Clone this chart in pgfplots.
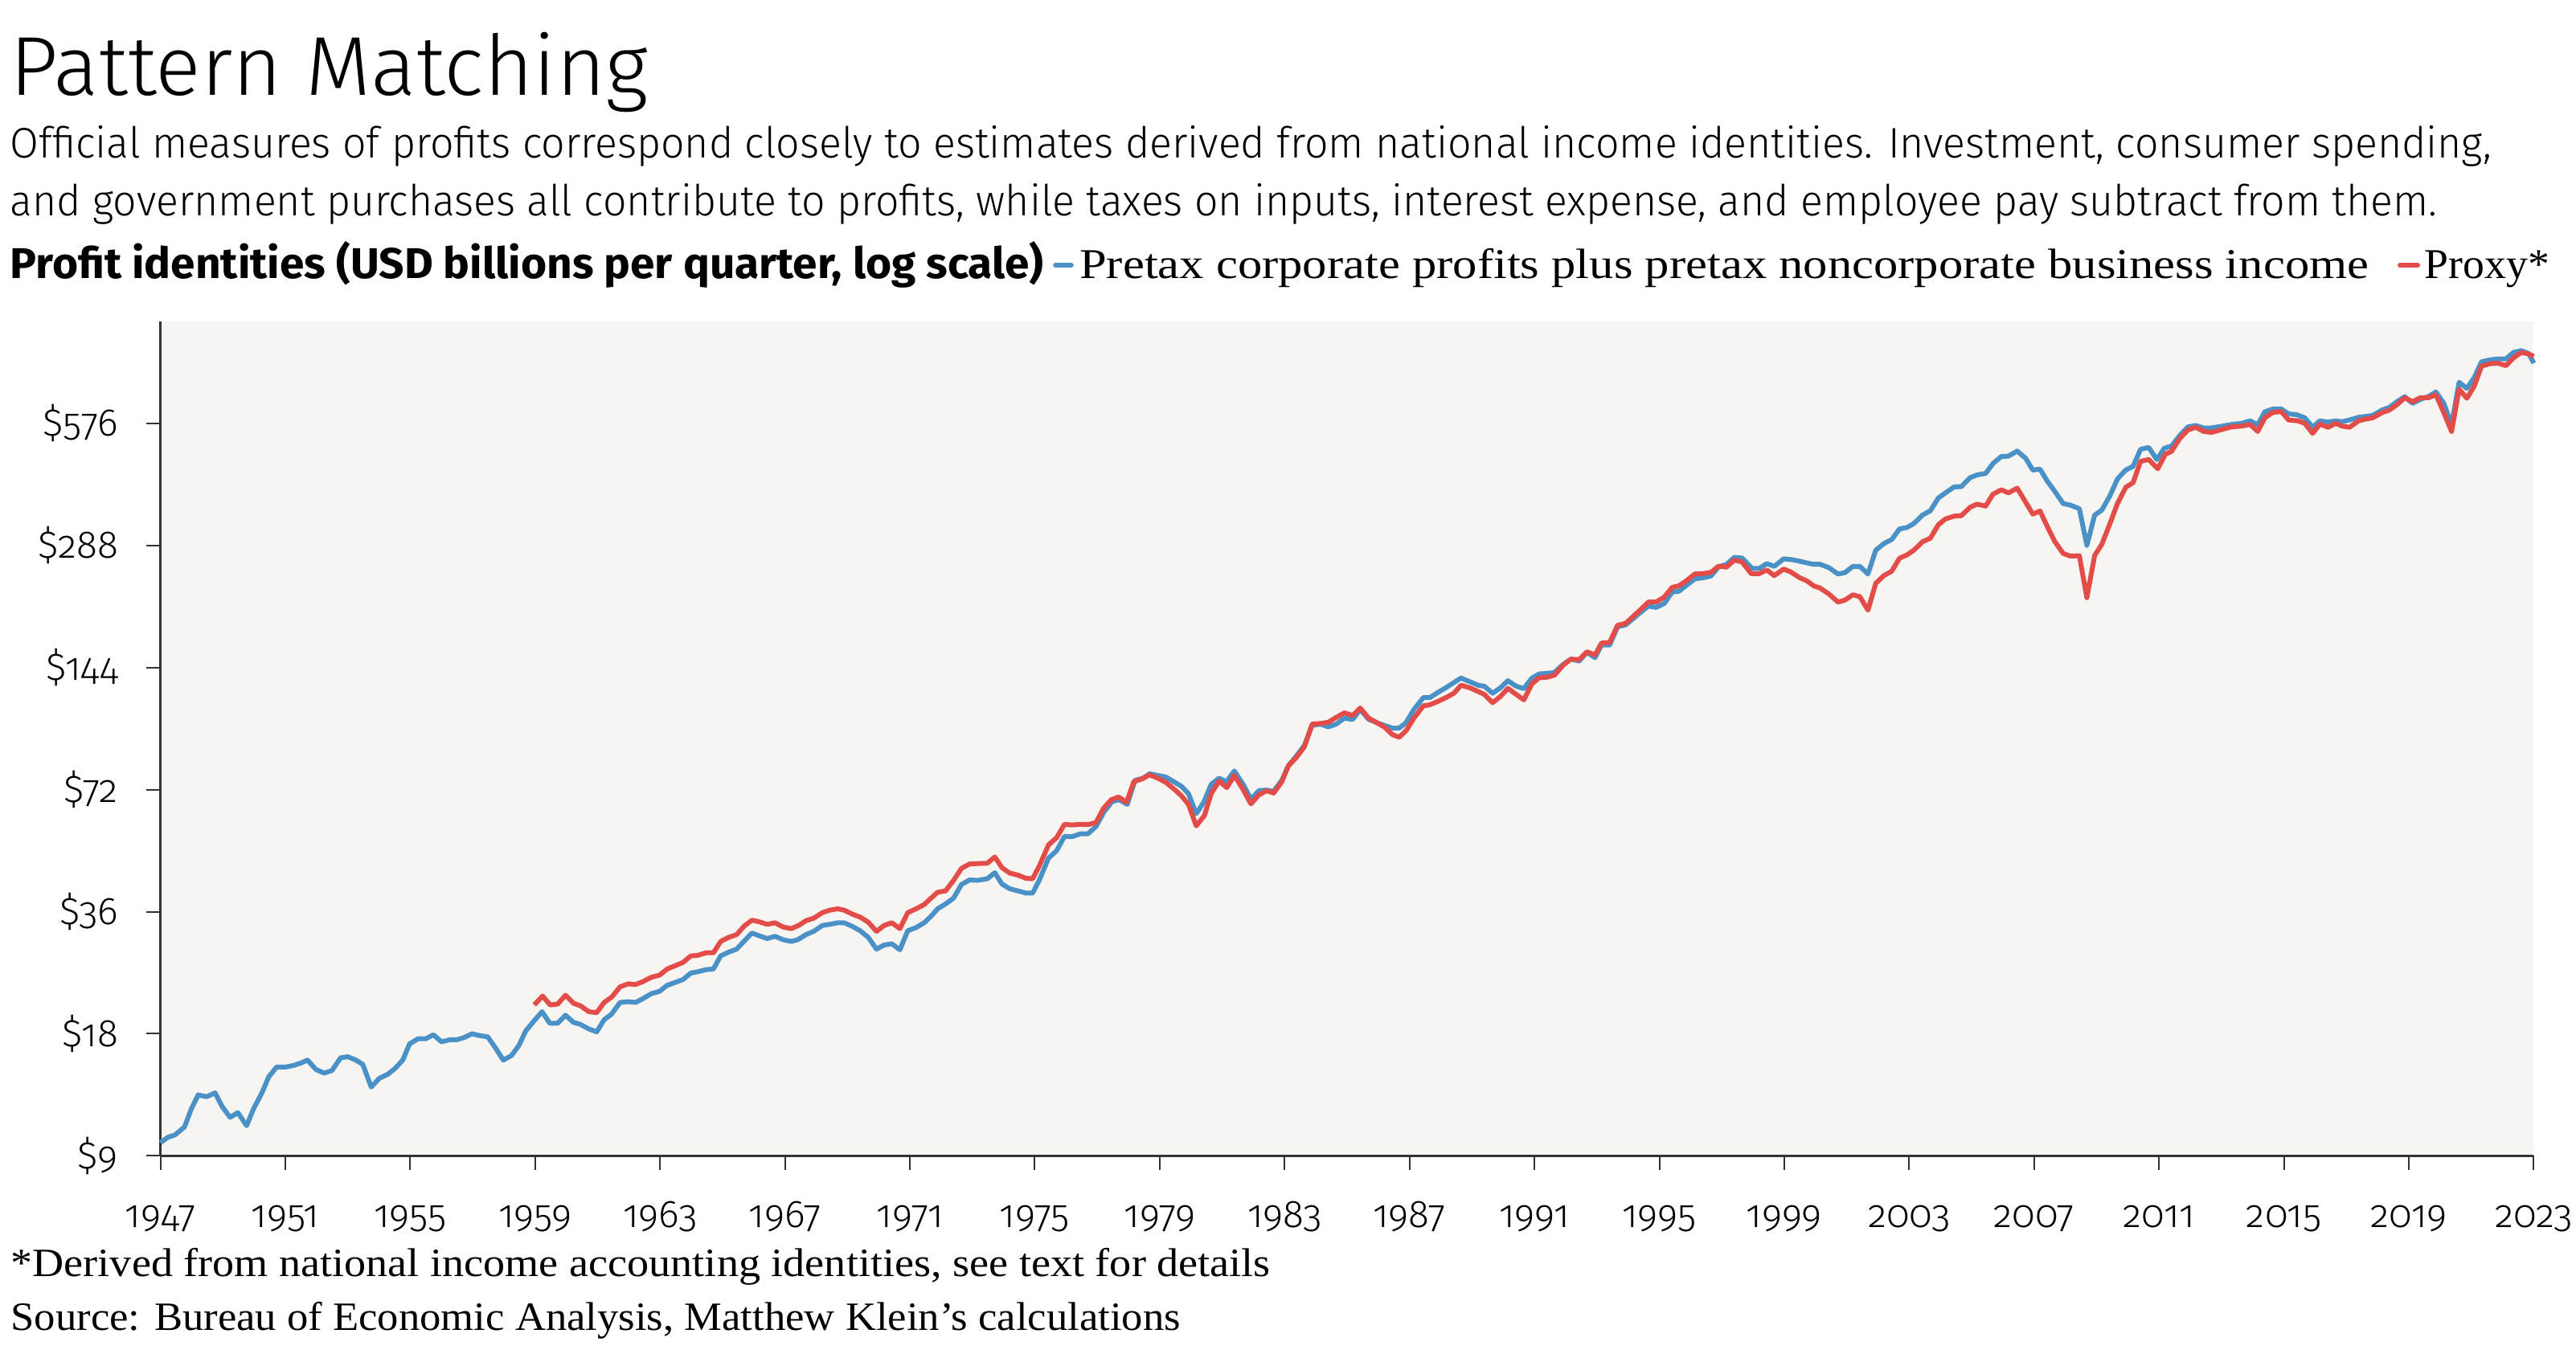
\documentclass[border=0pt]{standalone}
\usepackage{fontspec}
\usepackage{graphicx}
\usepackage{pgfplots}
\pgfplotsset{compat=1.18}

\setmainfont{Liberation Serif}
\newfontfamily\lightsans{Fira Sans Light}
\newfontfamily\ticksans{Fira Sans Light}[Numbers=OldStyle]
\newfontfamily\boldsans{Fira Sans}

\definecolor{plotbg}{RGB}{246,245,241}
\definecolor{blueline}{RGB}{74,145,200}
\definecolor{redline}{RGB}{228,76,73}
\definecolor{axisgray}{RGB}{51,51,51}

% set a line of text to an exact width, keeping its height
\newcommand{\fitw}[2]{\resizebox{#1}{\height}{#2}}

\begin{document}
\begin{tikzpicture}[x=1pt,y=1pt]
\fill[white] (0,0) rectangle (801.25,-420);

% headline block
\node[anchor=base west, inner sep=0] at (3,-29.6)
  {\fitw{198.5pt}{\lightsans\fontsize{26}{30}\selectfont Pattern Matching}};
\node[anchor=base west, inner sep=0] at (3,-49.2)
  {\fitw{771.7pt}{\lightsans\fontsize{13.3}{16}\selectfont Official measures of profits correspond closely to estimates derived from national income identities. Investment, consumer spending,}};
\node[anchor=base west, inner sep=0] at (3,-67.25)
  {\fitw{754.8pt}{\lightsans\fontsize{13.3}{16}\selectfont and government purchases all contribute to profits, while taxes on inputs, interest expense, and employee pay subtract from them.}};
\node[anchor=base west, inner sep=0] at (3,-86.7)
  {\fitw{321.5pt}{\boldsans\bfseries\fontsize{13.4}{16}\selectfont Profit identities (USD billions per quarter, log scale)}};

% legend
\draw[blueline, line width=1.5pt, line cap=round] (328.3,-82.5) -- (333.2,-82.5);
\node[anchor=base west, inner sep=0] at (335.6,-86.7)
  {\fitw{401pt}{\fontsize{13.2}{16}\selectfont Pretax corporate profits plus pretax noncorporate business income}};
\draw[redline, line width=1.5pt, line cap=round] (746.5,-82.5) -- (752,-82.5);
\node[anchor=base west, inner sep=0] at (754,-86.7)
  {\fitw{38.8pt}{\fontsize{13.2}{16}\selectfont Proxy*}};

% notes
\node[anchor=base west, inner sep=0] at (3.2,-397)
  {\fitw{391.8pt}{\fontsize{12.5}{15}\selectfont *Derived from national income accounting identities, see text for details}};
\node[anchor=base west, inner sep=0] at (3.2,-413.75)
  {\fitw{363.8pt}{\fontsize{12.5}{15}\selectfont Source: Bureau of Economic Analysis, Matthew Klein’s calculations}};

\begin{axis}[
  at={(49.9pt,-359.6pt)}, anchor=south west,
  scale only axis, width=738.2pt, height=259.5pt,
  xmin=1947, xmax=2023,
  ymode=log, log basis y=2, ymin=9, ymax=1025,
  axis x line*=bottom, axis y line*=left,
  axis line style={axisgray, line width=0.6pt},
  axis background/.style={fill=plotbg},
  tick align=outside, major tick length=4.4pt,
  tick style={axisgray, line width=0.5pt},
  xtick={1947,1951,1955,1959,1963,1967,1971,1975,1979,1983,1987,1991,1995,1999,2003,2007,2011,2015,2019,2023},
  xticklabels={1947,1951,1955,1959,1963,1967,1971,1975,1979,1983,1987,1991,1995,1999,2003,2007,2011,2015,2019,2023},
  ytick={9,18,36,72,144,288,576},
  yticklabels={\$9,\$18,\$36,\$72,\$144,\$288,\$576},
  ticklabel style={font=\ticksans\fontsize{12}{12}\selectfont, text=black, inner sep=0pt},
  xticklabel style={anchor=base, yshift=-17.8pt},
  yticklabel style={anchor=east, xshift=-8.6pt},
  minor tick num=0,
  clip=false,
]
\addplot[blueline, line width=1.5pt, line join=round] table {
1947.00 9.70
1947.24 10.0
1947.46 10.13
1947.77 10.6
1947.99 11.75
1948.21 12.72
1948.48 12.59
1948.75 12.87
1948.97 11.93
1949.23 11.2
1949.48 11.5
1949.76 10.68
1949.98 11.75
1950.25 12.87
1950.47 14.1
1950.72 14.9
1951.00 14.9
1951.27 15.04
1951.50 15.25
1951.71 15.5
1951.98 14.7
1952.24 14.4
1952.49 14.6
1952.77 15.7
1953.00 15.8
1953.26 15.5
1953.48 15.13
1953.75 13.3
1954.01 13.98
1954.28 14.3
1954.52 14.8
1954.76 15.5
1954.98 17.0
1955.25 17.5
1955.50 17.5
1955.74 17.9
1956.00 17.2
1956.27 17.4
1956.49 17.4
1956.71 17.6
1956.98 18.0
1957.24 17.8
1957.48 17.7
1957.73 16.6
1957.98 15.5
1958.24 15.9
1958.48 16.85
1958.70 18.3
1958.97 19.4
1959.22 20.4
1959.47 19.1
1959.72 19.1
1959.97 20.0
1960.23 19.2
1960.44 19.0
1960.72 18.5
1960.97 18.2
1961.21 19.5
1961.44 20.1
1961.72 21.5
1961.98 21.6
1962.21 21.5
1962.42 21.9
1962.72 22.6
1962.98 22.9
1963.23 23.7
1963.49 24.1
1963.74 24.5
1963.98 25.4
1964.21 25.6
1964.47 25.9
1964.71 26.0
1964.94 28.0
1965.19 28.6
1965.45 29.1
1965.70 30.5
1965.94 31.9
1966.17 31.4
1966.43 30.9
1966.68 31.3
1966.94 30.7
1967.20 30.4
1967.41 30.7
1967.67 31.6
1967.92 32.2
1968.20 33.3
1968.43 33.5
1968.69 33.8
1968.90 33.8
1969.16 33.1
1969.41 32.3
1969.67 31.1
1969.93 29.1
1970.18 29.8
1970.42 30.0
1970.68 29.0
1970.93 32.3
1971.20 32.9
1971.46 33.8
1971.68 35.1
1971.89 36.6
1972.14 37.6
1972.40 38.9
1972.65 42.0
1972.91 43.1
1973.16 43.0
1973.48 43.4
1973.72 44.9
1973.95 42.1
1974.20 41.0
1974.46 40.5
1974.72 40.0
1974.93 40.0
1975.14 43.0
1975.44 48.8
1975.70 50.9
1975.95 55.2
1976.19 55.1
1976.45 56.0
1976.70 56.0
1976.96 58.4
1977.22 63.5
1977.47 67.2
1977.70 68.0
1977.96 66.2
1978.21 75.9
1978.47 76.8
1978.68 78.8
1978.94 78.0
1979.20 77.3
1979.45 75.3
1979.69 73.4
1979.92 70.4
1980.17 62.8
1980.41 67.0
1980.65 74.2
1980.90 76.8
1981.14 75.3
1981.39 80.0
1981.67 74.2
1981.92 68.2
1982.18 71.6
1982.42 71.8
1982.65 71.3
1982.91 75.9
1983.12 82.4
1983.37 87.0
1983.63 92.4
1983.88 103.6
1984.14 104.4
1984.40 102.8
1984.65 104.4
1984.91 108.0
1985.18 107.2
1985.42 113.5
1985.69 107.3
1985.95 105.3
1986.20 103.6
1986.45 102.1
1986.67 102.1
1986.89 105.3
1987.14 113.5
1987.44 121.3
1987.65 121.3
1987.91 125.0
1988.16 128.3
1988.42 132.2
1988.65 135.6
1988.93 132.8
1989.19 130.2
1989.40 129.4
1989.66 124.4
1989.91 128.3
1990.15 133.6
1990.42 129.4
1990.66 127.7
1990.92 135.6
1991.15 138.8
1991.41 139.3
1991.64 139.9
1991.92 146.6
1992.17 151.0
1992.43 149.3
1992.68 156.9
1992.94 152.3
1993.15 163.6
1993.41 163.6
1993.66 181.3
1993.92 183.4
1994.18 190.6
1994.43 197.9
1994.65 204.1
1994.90 202.5
1995.16 207.2
1995.41 220.8
1995.63 222
1995.88 230
1996.14 238.2
1996.39 239.5
1996.65 242
1996.90 255
1997.15 258.5
1997.40 269
1997.65 268
1997.97 252.6
1998.20 252.6
1998.44 259.6
1998.68 255.7
1998.98 266.8
1999.25 265.6
1999.47 263.5
1999.70 261
1999.92 258.8
2000.14 258.8
2000.43 253.8
2000.72 244.8
2000.94 246.6
2001.20 255.7
2001.42 255.7
2001.68 244.8
2001.93 280.2
2002.19 291
2002.44 297.7
2002.69 316.2
2002.92 318.6
2003.15 326
2003.43 342.2
2003.68 350.6
2003.93 376.6
2004.16 388
2004.44 401.4
2004.67 402
2004.95 423
2005.17 429.5
2005.45 433.4
2005.68 458
2005.95 477
2006.18 478
2006.46 492
2006.73 472
2006.96 441.6
2007.19 444
2007.42 415
2007.65 392.8
2007.93 365.3
2008.16 362
2008.45 354.6
2008.69 288
2008.94 342
2009.17 352
2009.43 382
2009.67 420
2009.94 442
2010.17 451
2010.41 497
2010.67 502
2010.93 469
2011.17 500
2011.40 506
2011.67 538
2011.93 564.5
2012.18 568.7
2012.43 561
2012.68 561
2012.98 566
2013.37 573
2013.62 575
2013.92 584
2014.16 571
2014.39 615
2014.63 624
2014.91 625
2015.15 607.6
2015.40 605
2015.67 594
2015.92 563
2016.15 584
2016.42 580
2016.66 584
2016.86 581
2017.10 587
2017.39 596
2017.62 599
2017.84 602
2018.14 621
2018.38 630.5
2018.63 652
2018.87 670
2019.12 645
2019.37 660
2019.62 670
2019.87 688
2020.12 645
2020.37 571
2020.61 727
2020.86 702
2021.09 746
2021.33 817
2021.61 826
2021.86 830
2022.11 830
2022.35 861
2022.60 870
2022.85 855
2023.00 810
};
\addplot[redline, line width=1.5pt, line join=round] table {
1958.97 21.2
1959.24 22.3
1959.48 21.2
1959.72 21.3
1959.97 22.4
1960.23 21.4
1960.45 21.1
1960.72 20.4
1960.97 20.3
1961.21 21.5
1961.46 22.2
1961.72 23.5
1961.98 23.9
1962.21 23.8
1962.45 24.2
1962.72 24.8
1962.98 25.1
1963.23 26.0
1963.49 26.5
1963.74 27.0
1963.98 28.0
1964.21 28.1
1964.47 28.5
1964.71 28.5
1964.94 30.4
1965.19 31.1
1965.45 31.6
1965.70 33.2
1965.94 34.3
1966.17 34.0
1966.43 33.5
1966.68 33.8
1966.94 33.0
1967.20 32.7
1967.44 33.3
1967.67 34.2
1967.92 34.7
1968.20 35.8
1968.43 36.3
1968.69 36.6
1968.90 36.3
1969.16 35.5
1969.41 34.9
1969.67 33.9
1969.93 32.2
1970.18 33.3
1970.42 33.8
1970.68 32.7
1970.93 35.8
1971.20 36.6
1971.46 37.5
1971.68 38.9
1971.89 40.2
1972.14 40.5
1972.40 43.0
1972.65 46.0
1972.91 47.2
1973.16 47.3
1973.48 47.4
1973.72 49.1
1973.95 46.2
1974.20 44.8
1974.46 44.3
1974.72 43.5
1974.93 43.4
1975.14 46.6
1975.44 52.6
1975.70 54.8
1975.95 59.1
1976.19 58.9
1976.45 59.1
1976.70 59.0
1976.96 59.7
1977.20 64.7
1977.45 68.0
1977.68 69.0
1977.94 67.0
1978.17 75.3
1978.43 76.5
1978.68 78.3
1978.94 76.8
1979.20 75.0
1979.45 72.3
1979.69 69.6
1979.92 66.2
1980.17 58.6
1980.43 62.1
1980.65 70.4
1980.90 75.6
1981.15 72.8
1981.39 78.0
1981.65 72.5
1981.92 66.4
1982.18 69.9
1982.42 71.5
1982.65 70.6
1982.91 75.3
1983.12 82.4
1983.37 86.3
1983.63 91.7
1983.88 104.4
1984.14 104.8
1984.40 105.5
1984.65 108.4
1984.91 111.3
1985.18 109.7
1985.42 114.4
1985.69 108.0
1985.95 105.3
1986.20 102.6
1986.45 98.4
1986.67 96.9
1986.89 100.6
1987.14 108.0
1987.44 115.8
1987.65 116.5
1987.91 118.8
1988.16 121.3
1988.42 124.4
1988.65 130.2
1988.93 128.3
1989.19 125.7
1989.40 123.5
1989.66 117.9
1989.91 122.1
1990.15 127.9
1990.42 123.5
1990.66 119.8
1990.92 131.2
1991.15 135.8
1991.41 136.3
1991.64 137.8
1991.92 145.9
1992.17 151.0
1992.43 150.6
1992.68 157.4
1992.94 154.6
1993.15 165.4
1993.41 166
1993.66 182.9
1993.92 185
1994.18 193
1994.43 201
1994.65 208.8
1994.90 208.8
1995.16 214.9
1995.41 226.9
1995.63 229
1995.88 236
1996.14 245
1996.39 245.4
1996.65 247
1996.90 256
1997.15 254.5
1997.40 265
1997.65 262
1997.94 245.4
1998.20 245.4
1998.44 250.4
1998.68 242.6
1998.98 251.8
1999.21 247.6
1999.49 239.8
1999.72 235.5
1999.95 228.7
2000.14 226.2
2000.43 218.5
2000.72 208.8
2000.94 211
2001.20 217.6
2001.42 215.2
2001.68 199.4
2001.93 232.2
2002.19 242.6
2002.44 248.6
2002.69 267.7
2002.92 272.6
2003.15 280.2
2003.43 294
2003.68 300
2003.93 323.5
2004.16 334.6
2004.44 340
2004.67 341
2004.95 357.4
2005.17 364
2005.45 360
2005.68 385
2005.95 395
2006.18 388
2006.46 398.7
2006.69 372.5
2006.96 343.8
2007.19 350.2
2007.42 320.9
2007.65 295.5
2007.93 275.1
2008.16 271
2008.45 271.6
2008.69 214
2008.94 271.9
2009.17 289.8
2009.43 326
2009.67 365.3
2009.94 401
2010.17 411
2010.41 464
2010.67 469
2010.96 445
2011.20 483
2011.40 491
2011.67 529
2011.93 555
2012.18 563
2012.43 550
2012.68 547
2012.98 555
2013.30 564
2013.65 567
2013.92 572
2014.16 550
2014.39 594
2014.63 612
2014.91 616
2015.15 587
2015.45 584
2015.67 576
2015.92 544
2016.15 573
2016.42 563
2016.66 576
2016.86 567
2017.10 563
2017.39 584
2017.62 590
2017.84 594
2018.14 612
2018.38 621
2018.63 641
2018.87 666
2019.12 651
2019.37 666
2019.62 666
2019.87 677
2020.12 612
2020.37 550
2020.61 699
2020.86 664
2021.09 710
2021.33 797
2021.61 808
2021.86 810
2022.11 799
2022.35 835
2022.60 861
2022.85 853
2023.00 842
};
\end{axis}
\end{tikzpicture}
\end{document}
